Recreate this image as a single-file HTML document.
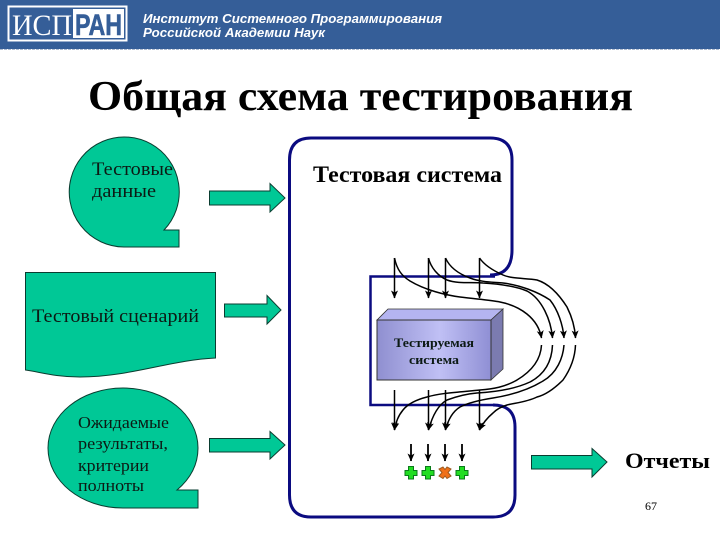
<!DOCTYPE html>
<html lang="ru">
<head>
<meta charset="utf-8">
<title>Общая схема тестирования</title>
<style>
html,body{margin:0;padding:0;background:#fff}
svg{display:block;width:720px;height:540px}
text{font-family:"Liberation Serif","DejaVu Serif",serif;fill:#0c1a14}
.sans{font-family:"Liberation Sans","DejaVu Sans",sans-serif}
</style>
</head>
<body>
<svg xmlns="http://www.w3.org/2000/svg" width="720" height="540" viewBox="0 0 720 540">
<defs>
<marker id="ah" markerUnits="userSpaceOnUse" markerWidth="8" markerHeight="8" refX="7.500" refY="4" orient="auto" viewBox="0 0 8 8"><path d="M0 0.500 L8 4 L0 7.500 L2 4 Z" fill="#000"/></marker>
<linearGradient id="front" x1="0" y1="0" x2="1" y2="0"><stop offset="0" stop-color="#8f8fd0"/><stop offset=".55" stop-color="#c0c0f5"/><stop offset="1" stop-color="#8f8fd4"/></linearGradient>
</defs>
<rect width="720" height="540" fill="#fff"/>
<rect width="720" height="49" fill="#355e98"/>
<line x1="0" y1="49.500" x2="720" y2="49.500" stroke="#aebbd0" stroke-width="1" stroke-dasharray="3 1"/>
<rect x="8.500" y="6.500" width="118" height="34" fill="none" stroke="#fff" stroke-width="2"/>
<rect x="73" y="9" width="51" height="29" fill="#fff"/>
<text x="12" y="35" font-size="30" style="fill:#fff" textLength="60" lengthAdjust="spacingAndGlyphs">ИСП</text>
<text class="sans" x="75" y="35" font-size="30" font-weight="700" style="fill:#355e98;stroke:#355e98;stroke-width:.6" textLength="47" lengthAdjust="spacingAndGlyphs">РАН</text>
<text class="sans" x="143" y="23" font-size="13" font-weight="700" font-style="italic" style="fill:#fff" textLength="299" lengthAdjust="spacingAndGlyphs">Институт Системного Программирования</text>
<text class="sans" x="143" y="37" font-size="13" font-weight="700" font-style="italic" style="fill:#fff" textLength="182" lengthAdjust="spacingAndGlyphs">Российской Академии Наук</text>

<text x="88" y="110" font-size="42" font-weight="700" style="fill:#000" textLength="545" lengthAdjust="spacingAndGlyphs">Общая схема тестирования</text>

<!-- Left shapes -->
<path d="M124 247 A55 55 0 1 1 164 230 L179 230 L179 247 Z" fill="#00c896" stroke="#0a3d30" stroke-width="1"/>
<path d="M25.500 272.500 H215.500 V358 C170 360 130 377 80 377 C55 377 40 372 25.500 370 Z" fill="#00c896" stroke="#0a3d30" stroke-width="1"/>
<path d="M123 508 C81 508 48 481 48 448 C48 415 81 388 123 388 C165 388 198 415 198 448 C198 465 190 479 177 490 L198 490 L198 508 Z" fill="#00c896" stroke="#0a3d30" stroke-width="1"/>

<!-- Green arrows -->
<g fill="#00c896" stroke="#0a3d30" stroke-width="1">
<path d="M209.500 191 H270 V183.500 L285 198 L270 212 V205 H209.500 Z"/>
<path d="M224.500 304 H267 V295.500 L281 310 L267 324 V317 H224.500 Z"/>
<path d="M209.500 438.500 H270 V431.500 L285 445 L270 459 V452 H209.500 Z"/>
<path d="M531.500 455.500 H592 V448.500 L607 462 L592 477 V469 H531.500 Z"/>
</g>

<!-- Test system -->
<path d="M289.500 254 V160 Q289.500 138 311 138 H490 Q512 138 512 160 V250 Q512 275 490 275" fill="none" stroke="#0b0b80" stroke-width="3"/>
<path d="M289.500 254 V495 Q289.500 517 311 517 H493 Q515 517 515 495 V427 Q515 405 493 405" fill="none" stroke="#0b0b80" stroke-width="3"/>
<path d="M495 276.500 H370.500 V405 H495" fill="none" stroke="#0b0b80" stroke-width="2.500"/>

<!-- Box -->
<path d="M377 320 L388 309 H503 L491 320 Z" fill="#b4b4f0" stroke="#333" stroke-width=".8"/>
<path d="M491 320 L503 309 V369 L491 380 Z" fill="#7b7bb0" stroke="#333" stroke-width=".8"/>
<rect x="377" y="320" width="114" height="60" fill="url(#front)" stroke="#333" stroke-width="1"/>
<text x="434" y="347" font-size="13" font-weight="700" text-anchor="middle" textLength="80" lengthAdjust="spacingAndGlyphs">Тестируемая</text>
<text x="434" y="364" font-size="13" font-weight="700" text-anchor="middle" textLength="50" lengthAdjust="spacingAndGlyphs">система</text>

<!-- Connectors -->
<g fill="none" stroke="#000" stroke-width="1.500">
<path d="M394.500 258 V298" marker-end="url(#ah)"/>
<path d="M428.500 258 V298" marker-end="url(#ah)"/>
<path d="M445.500 258 V298" marker-end="url(#ah)"/>
<path d="M479.500 258 V298" marker-end="url(#ah)"/>
<path d="M394.500 258 C397 270 402 276 410 281 C425 290 445 295 460 297 S490 300 500 302 C520 306 538 318 541.500 338" marker-end="url(#ah)"/>
<path d="M428.500 258 C431 268 438 276 447 280 C458 284 472 282 483 283 C500 284 515 286 527 291 C542 299 551 320 552.500 338" marker-end="url(#ah)"/>
<path d="M445.500 258 C450 268 459 274 470 278 C480 282 492 282 503 283 C520 285 538 292 550 300 C558 310 563 325 564 338" marker-end="url(#ah)"/>
<path d="M479.500 258 C485 266 494 271 503 275 C512 279 526 278 537 280 C550 284 560 296 567 307 C572 317 575 328 575.500 338" marker-end="url(#ah)"/>
<path d="M394.500 390 V430" marker-end="url(#ah)"/>
<path d="M428.500 390 V430" marker-end="url(#ah)"/>
<path d="M445.500 390 V430" marker-end="url(#ah)"/>
<path d="M479.500 390 V430" marker-end="url(#ah)"/>
<path d="M541.500 345 C541 355 537 368 517 380 C505 387 493 389 480 390 C460 392 440 393 427 397 C415 400 407 405 403 410 C398 416 396 422 394.500 430" marker-end="url(#ah)"/>
<path d="M552.500 345 C552 358 547 373 530 382 C515 389 495 392 477 393 C465 394 455 397 447 400 C438 405 432 417 428.500 430" marker-end="url(#ah)"/>
<path d="M564 345 C563 358 557 373 543 381 C530 389 512 395 493 398 C480 400 468 403 460 407 C452 412 448 420 445.500 430" marker-end="url(#ah)"/>
<path d="M575.500 345 C575 358 570 370 563 380 C553 390 545 395 537 397 C527 402 515 403 507 405 C500 407 496 410 493 413 C487 418 483 423 479.500 430" marker-end="url(#ah)"/>
</g>
<g stroke="#000" stroke-width="1.800" fill="none">
<path d="M411 444 V461" marker-end="url(#ah)"/>
<path d="M428 444 V461" marker-end="url(#ah)"/>
<path d="M445 444 V461" marker-end="url(#ah)"/>
<path d="M462 444 V461" marker-end="url(#ah)"/>
</g>
<g stroke="#0a7a1a" stroke-width="1">
<path fill="#22dd22" d="M408.500 466.500 H413.500 V470.500 H417 V475.500 H413.500 V479 H408.500 V475.500 H405 V470.500 H408.500 Z"/>
<path fill="#22dd22" d="M425.500 466.500 H430.500 V470.500 H434 V475.500 H430.500 V479 H425.500 V475.500 H422 V470.500 H425.500 Z"/>
<path fill="#22dd22" d="M459.500 466.500 H464.500 V470.500 H468 V475.500 H464.500 V479 H459.500 V475.500 H456 V470.500 H459.500 Z"/>
<path fill="#f07018" stroke="#9a5a20" d="M443 467 L445 469.500 L447 467 L451 469 L448 472.500 L451 476 L447 478.500 L445 476 L443 478.500 L439 476 L442 472.500 L439 469 Z"/>
</g>

<!-- Labels -->
<text x="92" y="175" font-size="19" textLength="81" lengthAdjust="spacingAndGlyphs">Тестовые</text>
<text x="92" y="197" font-size="19" textLength="64" lengthAdjust="spacingAndGlyphs">данные</text>
<text x="32" y="322" font-size="19" textLength="167" lengthAdjust="spacingAndGlyphs">Тестовый сценарий</text>
<text x="78" y="428" font-size="17" textLength="91" lengthAdjust="spacingAndGlyphs">Ожидаемые</text>
<text x="78" y="449" font-size="17" textLength="90" lengthAdjust="spacingAndGlyphs">результаты,</text>
<text x="78" y="471" font-size="17" textLength="71" lengthAdjust="spacingAndGlyphs">критерии</text>
<text x="78" y="491" font-size="17" textLength="66" lengthAdjust="spacingAndGlyphs">полноты</text>
<text x="313" y="182" font-size="23" font-weight="700" style="fill:#000" textLength="189" lengthAdjust="spacingAndGlyphs">Тестовая система</text>
<text x="625" y="468" font-size="22" font-weight="700" style="fill:#000" textLength="85" lengthAdjust="spacingAndGlyphs">Отчеты</text>
<text x="645" y="510" font-size="12" style="fill:#000">67</text>
</svg>
</body>
</html>
